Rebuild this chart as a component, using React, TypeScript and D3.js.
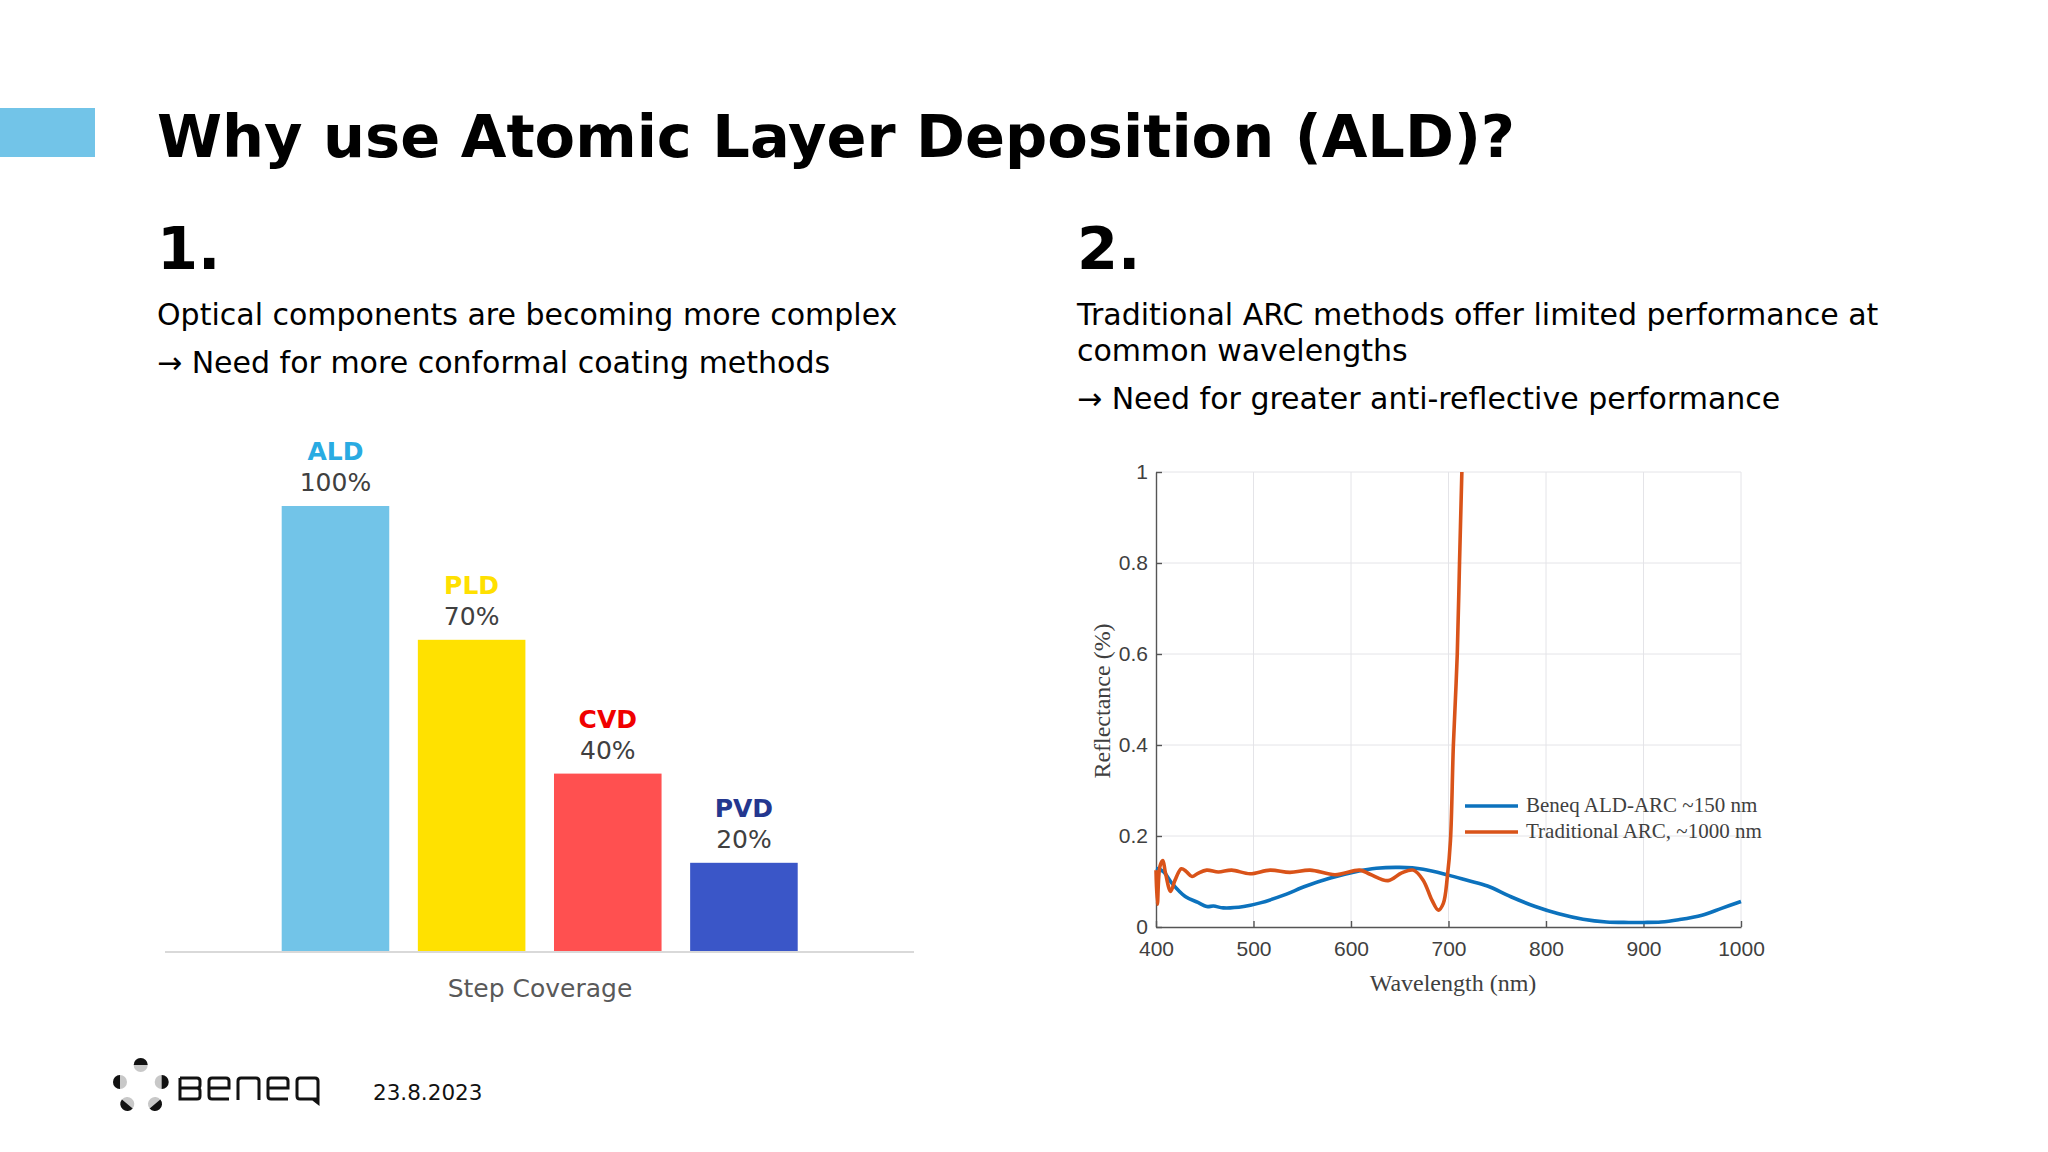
import React, { useEffect, useRef } from 'react';
import * as d3 from 'd3';

// --- data ---
const METHODS = ['ALD', 'PLD', 'CVD', 'PVD'];
const COVERAGE = [100, 70, 40, 20];
const BAR_COLORS = ['#72c4e8', '#ffe100', '#ff5050', '#3a56c8'];
const NAME_COLORS = ['#29abe2', '#ffe000', '#f00000', '#24378f'];

const ALD_WAVELENGTH = [400, 407.5, 416, 430, 443, 452, 459, 469, 490, 507, 531, 554, 578, 606, 626, 650, 674, 700, 720, 740, 764, 789, 813, 838, 862, 885, 900, 918, 936, 960, 980, 1000];
const ALD_REFLECTANCE = [0.129, 0.122, 0.097, 0.067, 0.054, 0.045, 0.046, 0.042, 0.045, 0.053, 0.07, 0.09, 0.107, 0.122, 0.129, 0.131, 0.127, 0.114, 0.102, 0.09, 0.0665, 0.045, 0.029, 0.017, 0.011, 0.01, 0.01, 0.011, 0.016, 0.026, 0.041, 0.056];

const ARC_WAVELENGTH = [400, 401.4, 404, 407, 409.6, 415, 419.5, 426, 431, 437, 443, 452, 464, 477.6, 496.4, 517, 537.4, 558, 583.6, 609, 619.5, 638, 652, 664, 674, 683, 689.6, 694.7, 698.8, 702, 705, 709, 711.3, 713.7];
const ARC_REFLECTANCE = [0.125, 0.05, 0.133, 0.146, 0.12, 0.078, 0.103, 0.128, 0.122, 0.111, 0.118, 0.125, 0.121, 0.125, 0.117, 0.125, 0.12, 0.125, 0.115, 0.125, 0.116, 0.102, 0.119, 0.125, 0.103, 0.059, 0.037, 0.052, 0.11, 0.19, 0.4, 0.6, 0.8, 1];

const X_TICKS = [400, 500, 600, 700, 800, 900, 1000];
const Y_TICKS = [0, 0.2, 0.4, 0.6, 0.8, 1];
const LEGEND = ['Beneq ALD-ARC ~150 nm', 'Traditional ARC, ~1000 nm'];

const BLUE = '#0c72bd';
const ORANGE = '#d95319';
const SANS = '"DejaVu Sans", sans-serif';

// --- bar chart scales ---
const barX = d3.scaleBand<string>().domain(METHODS).range([267.4, 812]).paddingInner(0.21).paddingOuter(0.105);
const barY = d3.scaleLinear().domain([0, 100]).range([952, 506]);

// --- line chart scales ---
const lineX = d3.scaleLinear().domain([400, 1000]).range([1156, 1741]);
const lineY = d3.scaleLinear().domain([0, 1]).range([927, 472]);

const Spectrum = () => {
  const ref = useRef<SVGGElement | null>(null);

  useEffect(() => {
    if (!ref.current) return;
    const g = d3.select(ref.current);
    g.selectAll('*').remove();

    // grid
    const grid = g.append('g').attr('stroke', '#e4e4e8').attr('stroke-width', 1);
    grid.selectAll('.v').data(X_TICKS.slice(1)).join('line')
      .attr('x1', d => lineX(d)).attr('x2', d => lineX(d))
      .attr('y1', lineY(1)).attr('y2', lineY(0));
    grid.selectAll('.h').data(Y_TICKS.slice(1)).join('line')
      .attr('x1', lineX(400)).attr('x2', lineX(1000))
      .attr('y1', d => lineY(d)).attr('y2', d => lineY(d));

    // axes
    const xAxis = g.append('g').attr('transform', `translate(0,${lineY(0)})`)
      .call(d3.axisBottom(lineX).tickValues(X_TICKS).tickFormat(d3.format('d') as any).tickSize(-6).tickSizeOuter(0).tickPadding(14));
    const yAxis = g.append('g').attr('transform', `translate(${lineX(400)},0)`)
      .call(d3.axisLeft(lineY).tickValues(Y_TICKS).tickFormat(d => String(d)).tickSize(-6).tickSizeOuter(0).tickPadding(8));
    [xAxis, yAxis].forEach(a => {
      a.selectAll('.domain, line').attr('stroke', '#555555').attr('stroke-width', 1.4);
      a.selectAll('text').attr('font-family', '"Liberation Sans", sans-serif').attr('font-size', 21).attr('fill', '#404040');
    });

    // curves
    const line = d3.line<number>().curve(d3.curveMonotoneX);
    const draw = (xs: number[], ys: number[], color: string) => {
      g.append('path')
        .attr('d', d3.line<number>()
          .x(d => lineX(xs[d]))
          .y(d => lineY(ys[d]))
          .curve(d3.curveCatmullRom.alpha(0.5))(d3.range(xs.length)))
        .attr('fill', 'none').attr('stroke', color).attr('stroke-width', 3.6);
    };
    draw(ALD_WAVELENGTH, ALD_REFLECTANCE, BLUE);
    draw(ARC_WAVELENGTH, ARC_REFLECTANCE, ORANGE);

    // legend
    LEGEND.forEach((label, i) => {
      const y = 806 + i * 26;
      g.append('line').attr('x1', 1465).attr('x2', 1518).attr('y1', y).attr('y2', y)
        .attr('stroke', i === 0 ? BLUE : ORANGE).attr('stroke-width', 3.6);
      g.append('text').attr('x', 1526).attr('y', y + 6).text(label)
        .attr('font-family', '"Liberation Serif", serif').attr('font-size', 21).attr('fill', '#404040');
    });

    // axis titles
    g.append('text').attr('x', 1453).attr('y', 991).attr('text-anchor', 'middle').text('Wavelength (nm)')
      .attr('font-family', '"Liberation Serif", serif').attr('font-size', 24).attr('fill', '#404040');
    g.append('text').attr('transform', 'translate(1110,701) rotate(-90)').attr('text-anchor', 'middle').text('Reflectance (%)')
      .attr('font-family', '"Liberation Serif", serif').attr('font-size', 24).attr('fill', '#404040');
  }, []);

  return <g ref={ref} />;
};

const CoverageBars = () => (
  <g>
    {METHODS.map((m, i) => (
      <g key={m}>
        <rect x={barX(m)} y={barY(COVERAGE[i])} width={barX.bandwidth()} height={barY(0) - barY(COVERAGE[i])} fill={BAR_COLORS[i]} />
        <text x={barX(m)! + barX.bandwidth() / 2} y={barY(COVERAGE[i]) - 46} textAnchor="middle" fontFamily={SANS} fontWeight="bold" fontSize={25} fill={NAME_COLORS[i]}>{m}</text>
        <text x={barX(m)! + barX.bandwidth() / 2} y={barY(COVERAGE[i]) - 15} textAnchor="middle" fontFamily={SANS} fontSize={25} fill="#404040">{COVERAGE[i]}%</text>
      </g>
    ))}
    <line x1={165} x2={914} y1={barY(0)} y2={barY(0)} stroke="#d9d9d9" strokeWidth={2} />
    <text x={540} y={997} textAnchor="middle" fontFamily={SANS} fontSize={25} fill="#595959">Step Coverage</text>
  </g>
);

// small blob of the logo: black half with grey inner part
const Blob = ({ x, y, angle }: { x: number; y: number; angle: number }) => (
  <g transform={`translate(${x},${y}) rotate(${angle})`}>
    <circle r={7} fill="#c8c8c8" />
    <path d="M-7 0A7 7 0 0 1 7 0Z" fill="#111" />
  </g>
);

const Logo = () => (
  <g>
    <Blob x={140.7} y={1065} angle={0} />
    <Blob x={120} y={1082} angle={-90} />
    <Blob x={161.7} y={1082} angle={90} />
    <Blob x={127.3} y={1104} angle={-140} />
    <Blob x={155} y={1104} angle={140} />
    <g fill="none" stroke="#111" strokeWidth={3}>
      <path d="M180 1078H197Q200 1078 200 1081V1085Q200 1088 197 1088H180M197 1088Q200 1088 200 1091V1096Q200 1099 197 1099H180V1078" />
      <path d="M209 1088H229V1081Q229 1078 226 1078H212Q209 1078 209 1081V1096Q209 1099 212 1099H229" />
      <path d="M238 1100V1081Q238 1078 241 1078H256Q259 1078 259 1081V1100" />
      <path d="M268 1088H288V1081Q288 1078 285 1078H271Q268 1078 268 1081V1096Q268 1099 271 1099H288" />
      <path d="M318 1099H300Q297 1099 297 1096V1081Q297 1078 300 1078H315Q318 1078 318 1081V1103L313 1099" />
    </g>
  </g>
);

export default function App() {
  return (
    <svg width={2048} height={1152} viewBox="0 0 2048 1152" style={{ position: 'absolute', left: 0, top: 0, background: '#fff' }}>
      <rect x={0} y={108} width={95} height={49} fill="#72c4e8" />
      <text x={157} y={157} fontFamily={SANS} fontWeight="bold" fontSize={59}>Why use Atomic Layer Deposition (ALD)?</text>

      <text x={157} y={269} fontFamily={SANS} fontWeight="bold" fontSize={59}>1.</text>
      <text x={157} y={325} fontFamily={SANS} fontSize={30}>Optical components are becoming more complex</text>
      <text x={157} y={373} fontFamily={SANS} fontSize={30}>→ Need for more conformal coating methods</text>

      <text x={1077} y={269} fontFamily={SANS} fontWeight="bold" fontSize={59}>2.</text>
      <text x={1077} y={325} fontFamily={SANS} fontSize={30}>Traditional ARC methods offer limited performance at</text>
      <text x={1077} y={361} fontFamily={SANS} fontSize={30}>common wavelengths</text>
      <text x={1077} y={409} fontFamily={SANS} fontSize={30}>→ Need for greater anti-reflective performance</text>

      <CoverageBars />
      <Spectrum />

      <Logo />
      <text x={373} y={1100} fontFamily={SANS} fontSize={21.5} fill="#111">23.8.2023</text>
    </svg>
  );
}
